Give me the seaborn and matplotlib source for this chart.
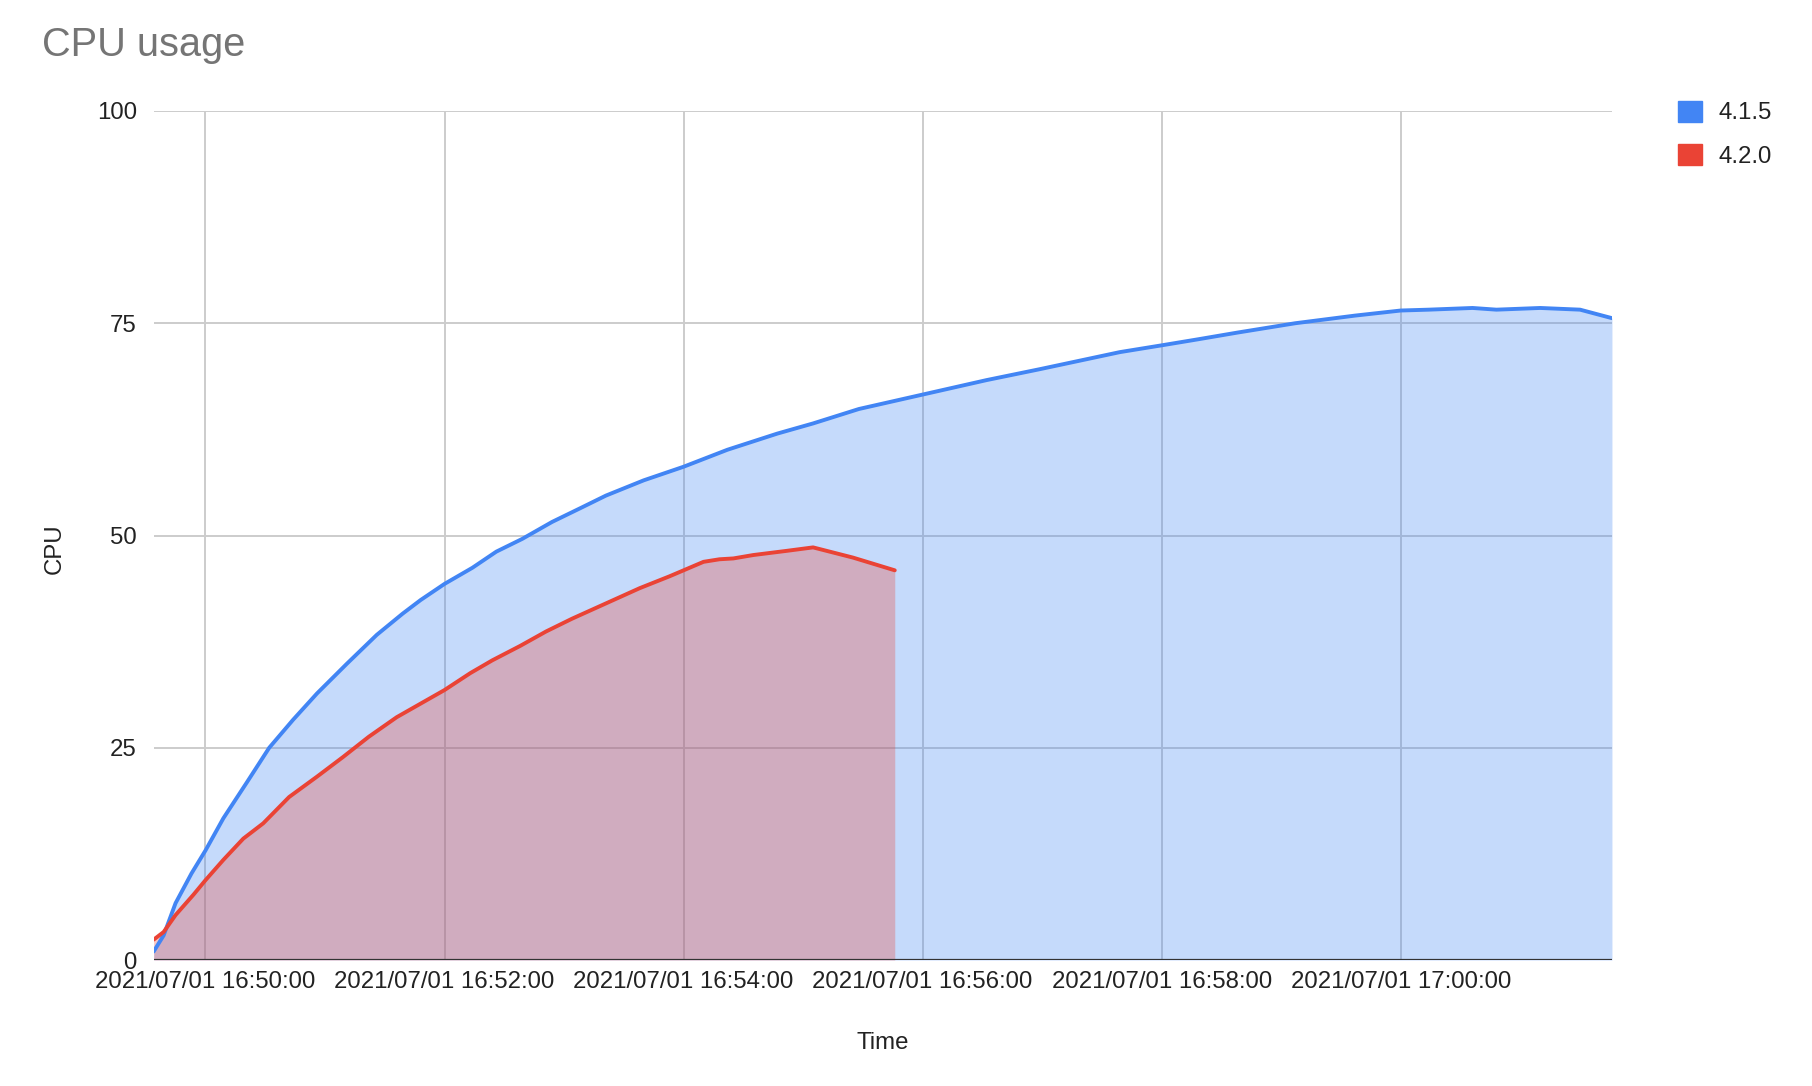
import pandas as pd
import matplotlib
matplotlib.use("Agg")
import matplotlib.pyplot as plt
import matplotlib.dates as mdates
from matplotlib.patches import Patch
import seaborn as sns

# Data (seconds after the first sample, CPU %)
start_time = "2021-07-01 16:49:34"

v415_sec = [0, 5, 11, 19, 26, 35, 47, 58, 70, 82, 97, 112, 125, 134, 146, 160,
            172, 185, 200, 214, 227, 246, 261, 266, 288, 313, 331, 354, 386,
            418, 445, 465, 485, 506, 524, 544, 573, 603, 626, 640, 662, 674,
            696, 716, 732]
v415_cpu = [1.0, 2.9, 6.7, 10.2, 12.9, 16.7, 21.0, 25.0, 28.3, 31.4, 34.9, 38.3,
            40.8, 42.4, 44.3, 46.2, 48.1, 49.6, 51.6, 53.2, 54.7, 56.5, 57.7,
            58.1, 60.1, 62.0, 63.2, 64.9, 66.6, 68.3, 69.6, 70.6, 71.6, 72.4,
            73.1, 73.9, 75.0, 75.9, 76.5, 76.6, 76.8, 76.6, 76.8, 76.6, 75.6]

v420_sec = [0, 5, 11, 20, 26, 35, 45, 55, 68, 82, 95, 108, 122, 134, 146, 159,
            170, 184, 197, 210, 227, 244, 259, 266, 276, 284, 291, 301, 318,
            331, 341, 351, 358, 372]
v420_cpu = [2.4, 3.3, 5.3, 7.7, 9.4, 11.8, 14.3, 16.1, 19.2, 21.6, 23.9, 26.3,
            28.6, 30.2, 31.8, 33.8, 35.3, 37.0, 38.7, 40.2, 42.0, 43.8, 45.2,
            45.9, 46.9, 47.2, 47.3, 47.7, 48.2, 48.6, 48.0, 47.4, 46.9, 45.9]

series_names = ["4.1.5", "4.2.0"]
colors = ["#4285F4", "#EA4335"]
y_ticks = [0, 25, 50, 75, 100]

t0 = pd.Timestamp(start_time)
frames = []
for name, secs, cpu in [(series_names[0], v415_sec, v415_cpu),
                        (series_names[1], v420_sec, v420_cpu)]:
    frames.append(pd.DataFrame({
        "Time": t0 + pd.to_timedelta(secs, unit="s"),
        "CPU": cpu,
        "version": name,
    }))
df = pd.concat(frames, ignore_index=True)

sns.set_theme(style="whitegrid")
plt.rcParams["font.family"] = ["Liberation Sans", "DejaVu Sans"]

fig, ax = plt.subplots(figsize=(18.12, 10.86), dpi=100)
fig.subplots_adjust(left=0.0848, right=0.8896, top=0.8978, bottom=0.116)

# areas first, then lines on top
for name, c in zip(series_names, colors):
    d = df[df["version"] == name]
    ax.fill_between(d["Time"], 0, d["CPU"], color=c, alpha=0.3, lw=0, zorder=2)
sns.lineplot(data=df, x="Time", y="CPU", hue="version", palette=colors,
             linewidth=2.8, legend=False, ax=ax, zorder=3)

ax.set_xlim(df["Time"].min(), df["Time"].max())
ax.set_ylim(0, 100)
ax.set_yticks(y_ticks)
ax.xaxis.set_major_locator(mdates.MinuteLocator(byminute=range(0, 60, 2)))
ax.xaxis.set_major_formatter(mdates.DateFormatter("%Y/%m/%d %H:%M:%S"))

ax.grid(True, color="#cccccc", lw=1.4)
ax.set_axisbelow(True)
for s in ax.spines.values():
    s.set_visible(False)
ax.axhline(0, color="#333333", lw=1.6, zorder=4)

ax.tick_params(axis="both", length=0, labelsize=17.3, labelcolor="#222222")
ax.tick_params(axis="x", pad=8)
ax.tick_params(axis="y", pad=12)
ax.set_xlabel("")
ax.set_ylabel("")

fig.text(41.6 / 1812, 1 - 55.5 / 1086, "CPU usage", fontsize=28.6,
         color="#757575", va="baseline", ha="left")
fig.text(54.5 / 1812, 1 - 549 / 1086, "CPU", fontsize=17.3, color="#222222",
         rotation=90, ha="center", va="center")
fig.text(883 / 1812, 1 - 1043 / 1086, "Time", fontsize=17.3, color="#222222",
         ha="center", va="center")

handles = [Patch(facecolor=c, edgecolor=c, joinstyle="round") for c in colors]
fig.legend(handles, series_names, loc="upper left",
           bbox_to_anchor=(1677.5 / 1812, 1 - 100.5 / 1086), frameon=False,
           fontsize=17.3, handlelength=1.0, handleheight=1.0,
           handletextpad=0.7, labelspacing=0.8, borderpad=0, borderaxespad=0,
           labelcolor="#222222")

fig.savefig("out.png", dpi=100)
